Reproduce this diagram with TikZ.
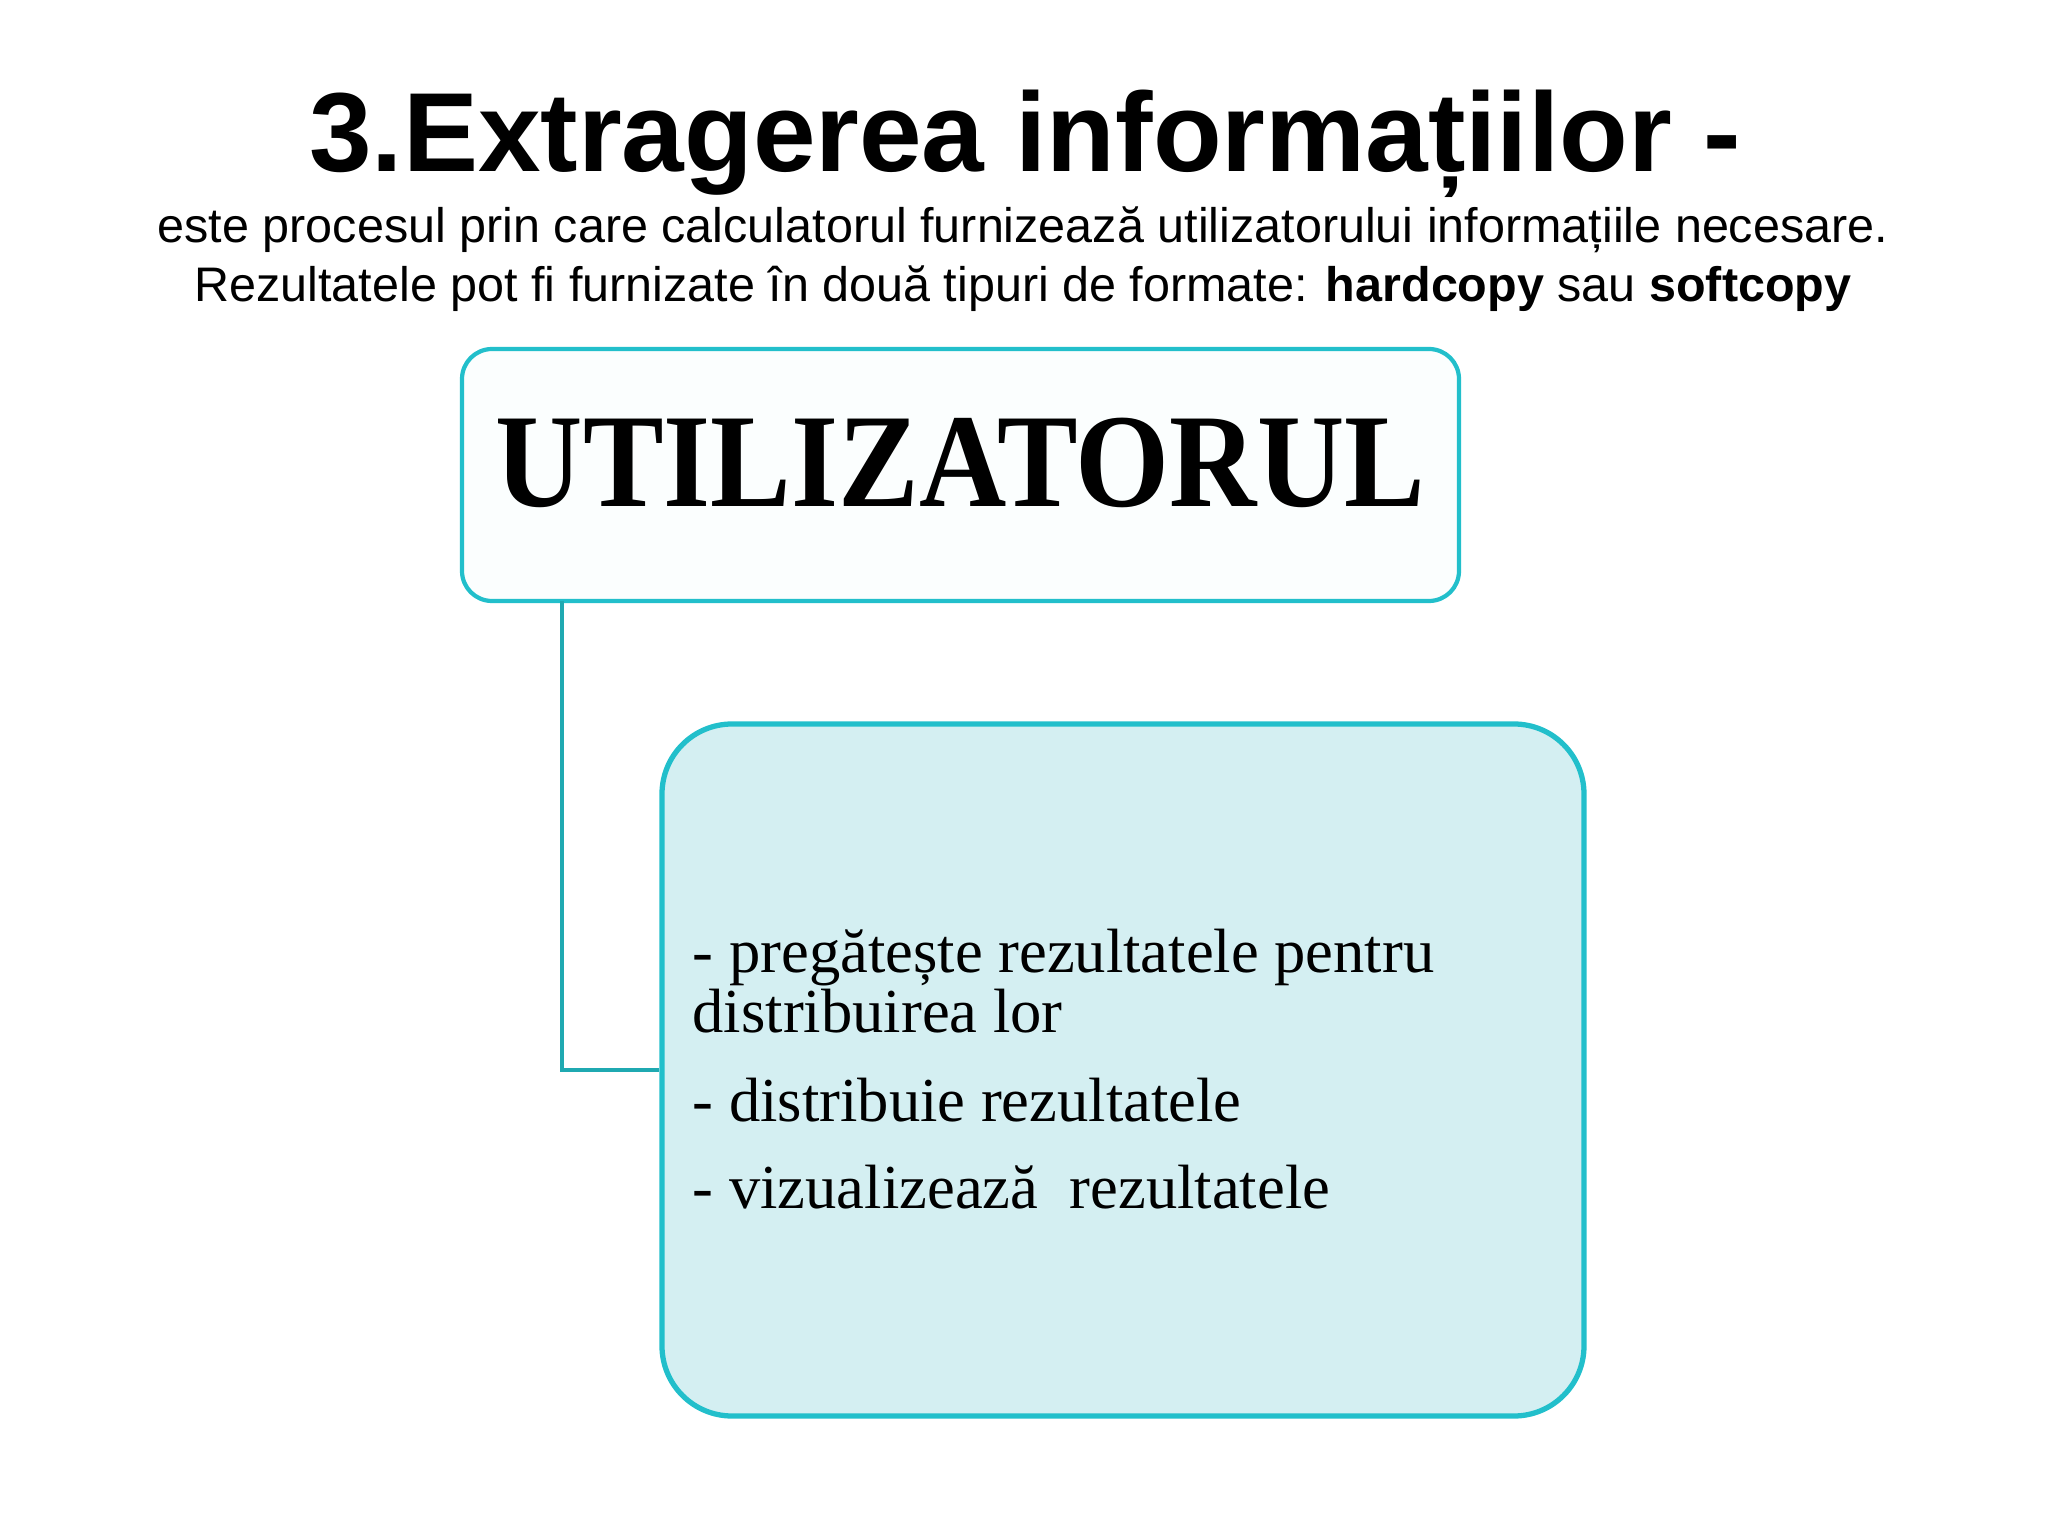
\documentclass[tikz,border=0pt]{standalone}
\usepackage{fontspec}
\setmainfont{Liberation Serif}
\newfontfamily\headfont{Liberation Sans}
\newfontfamily\boxfont[FakeStretch=0.905]{Liberation Serif}
\usepackage{tikz}
\definecolor{tealline}{HTML}{22BFCB}
\definecolor{lightfill}{HTML}{D4EFF2}
\definecolor{stemline}{HTML}{1FA9B1}

\begin{document}
\begin{tikzpicture}
\tikzstyle{every node}=[inner sep=0pt]
\tikzstyle{userbox}=[draw=tealline,line width=1.2pt,rounded corners=0.3cm,fill=white!98!tealline,minimum width=9.97cm,minimum height=2.52cm,text depth=0.26cm]
\tikzstyle{taskbox}=[draw=tealline,line width=1.5pt,rounded corners=0.7cm,fill=lightfill,minimum width=9.22cm,minimum height=6.92cm]
\tikzstyle{item}=[anchor=base west,font=\fontsize{17.8}{17}\selectfont]
\tikzstyle{link}=[draw=stemline,line width=1.1pt]
\useasboundingbox (0,0) rectangle (20.48,-15.36);
\node[anchor=base] (title) at (10.25,-1.72) {\headfont\bfseries\fontsize{32}{36}\selectfont 3.Extragerea informațiilor -};
\node[anchor=base] (sub1) at (10.23,-2.43) {\headfont\fontsize{13.8}{16}\selectfont este procesul prin care calculatorul furnizează utilizatorului informațiile necesare.};
\node[anchor=base] (sub2) at (10.23,-3.02) {\headfont\fontsize{13.8}{16}\selectfont Rezultatele pot fi furnizate în două tipuri de formate: \textbf{hardcopy} sau \textbf{softcopy}};
\node[userbox] (user) at (9.605,-4.75) {\boxfont\bfseries\fontsize{38}{40}\selectfont UTILIZATORUL};
\node[taskbox] (tasks) at (11.23,-10.70) {};
\node[item] (prep) at (6.92,-9.73) {- pregătește rezultatele pentru};
\node[item] (prep2) at (6.92,-10.32) {distribuirea lor};
\node[item] (dist) at (6.92,-11.21) {- distribuie rezultatele};
\node[item] (view) at (6.92,-12.08) {- vizualizează~ rezultatele};
\coordinate (stem) at (5.62,-6.01);
\draw[link] (stem) |- (tasks.west);
\end{tikzpicture}
\end{document}
